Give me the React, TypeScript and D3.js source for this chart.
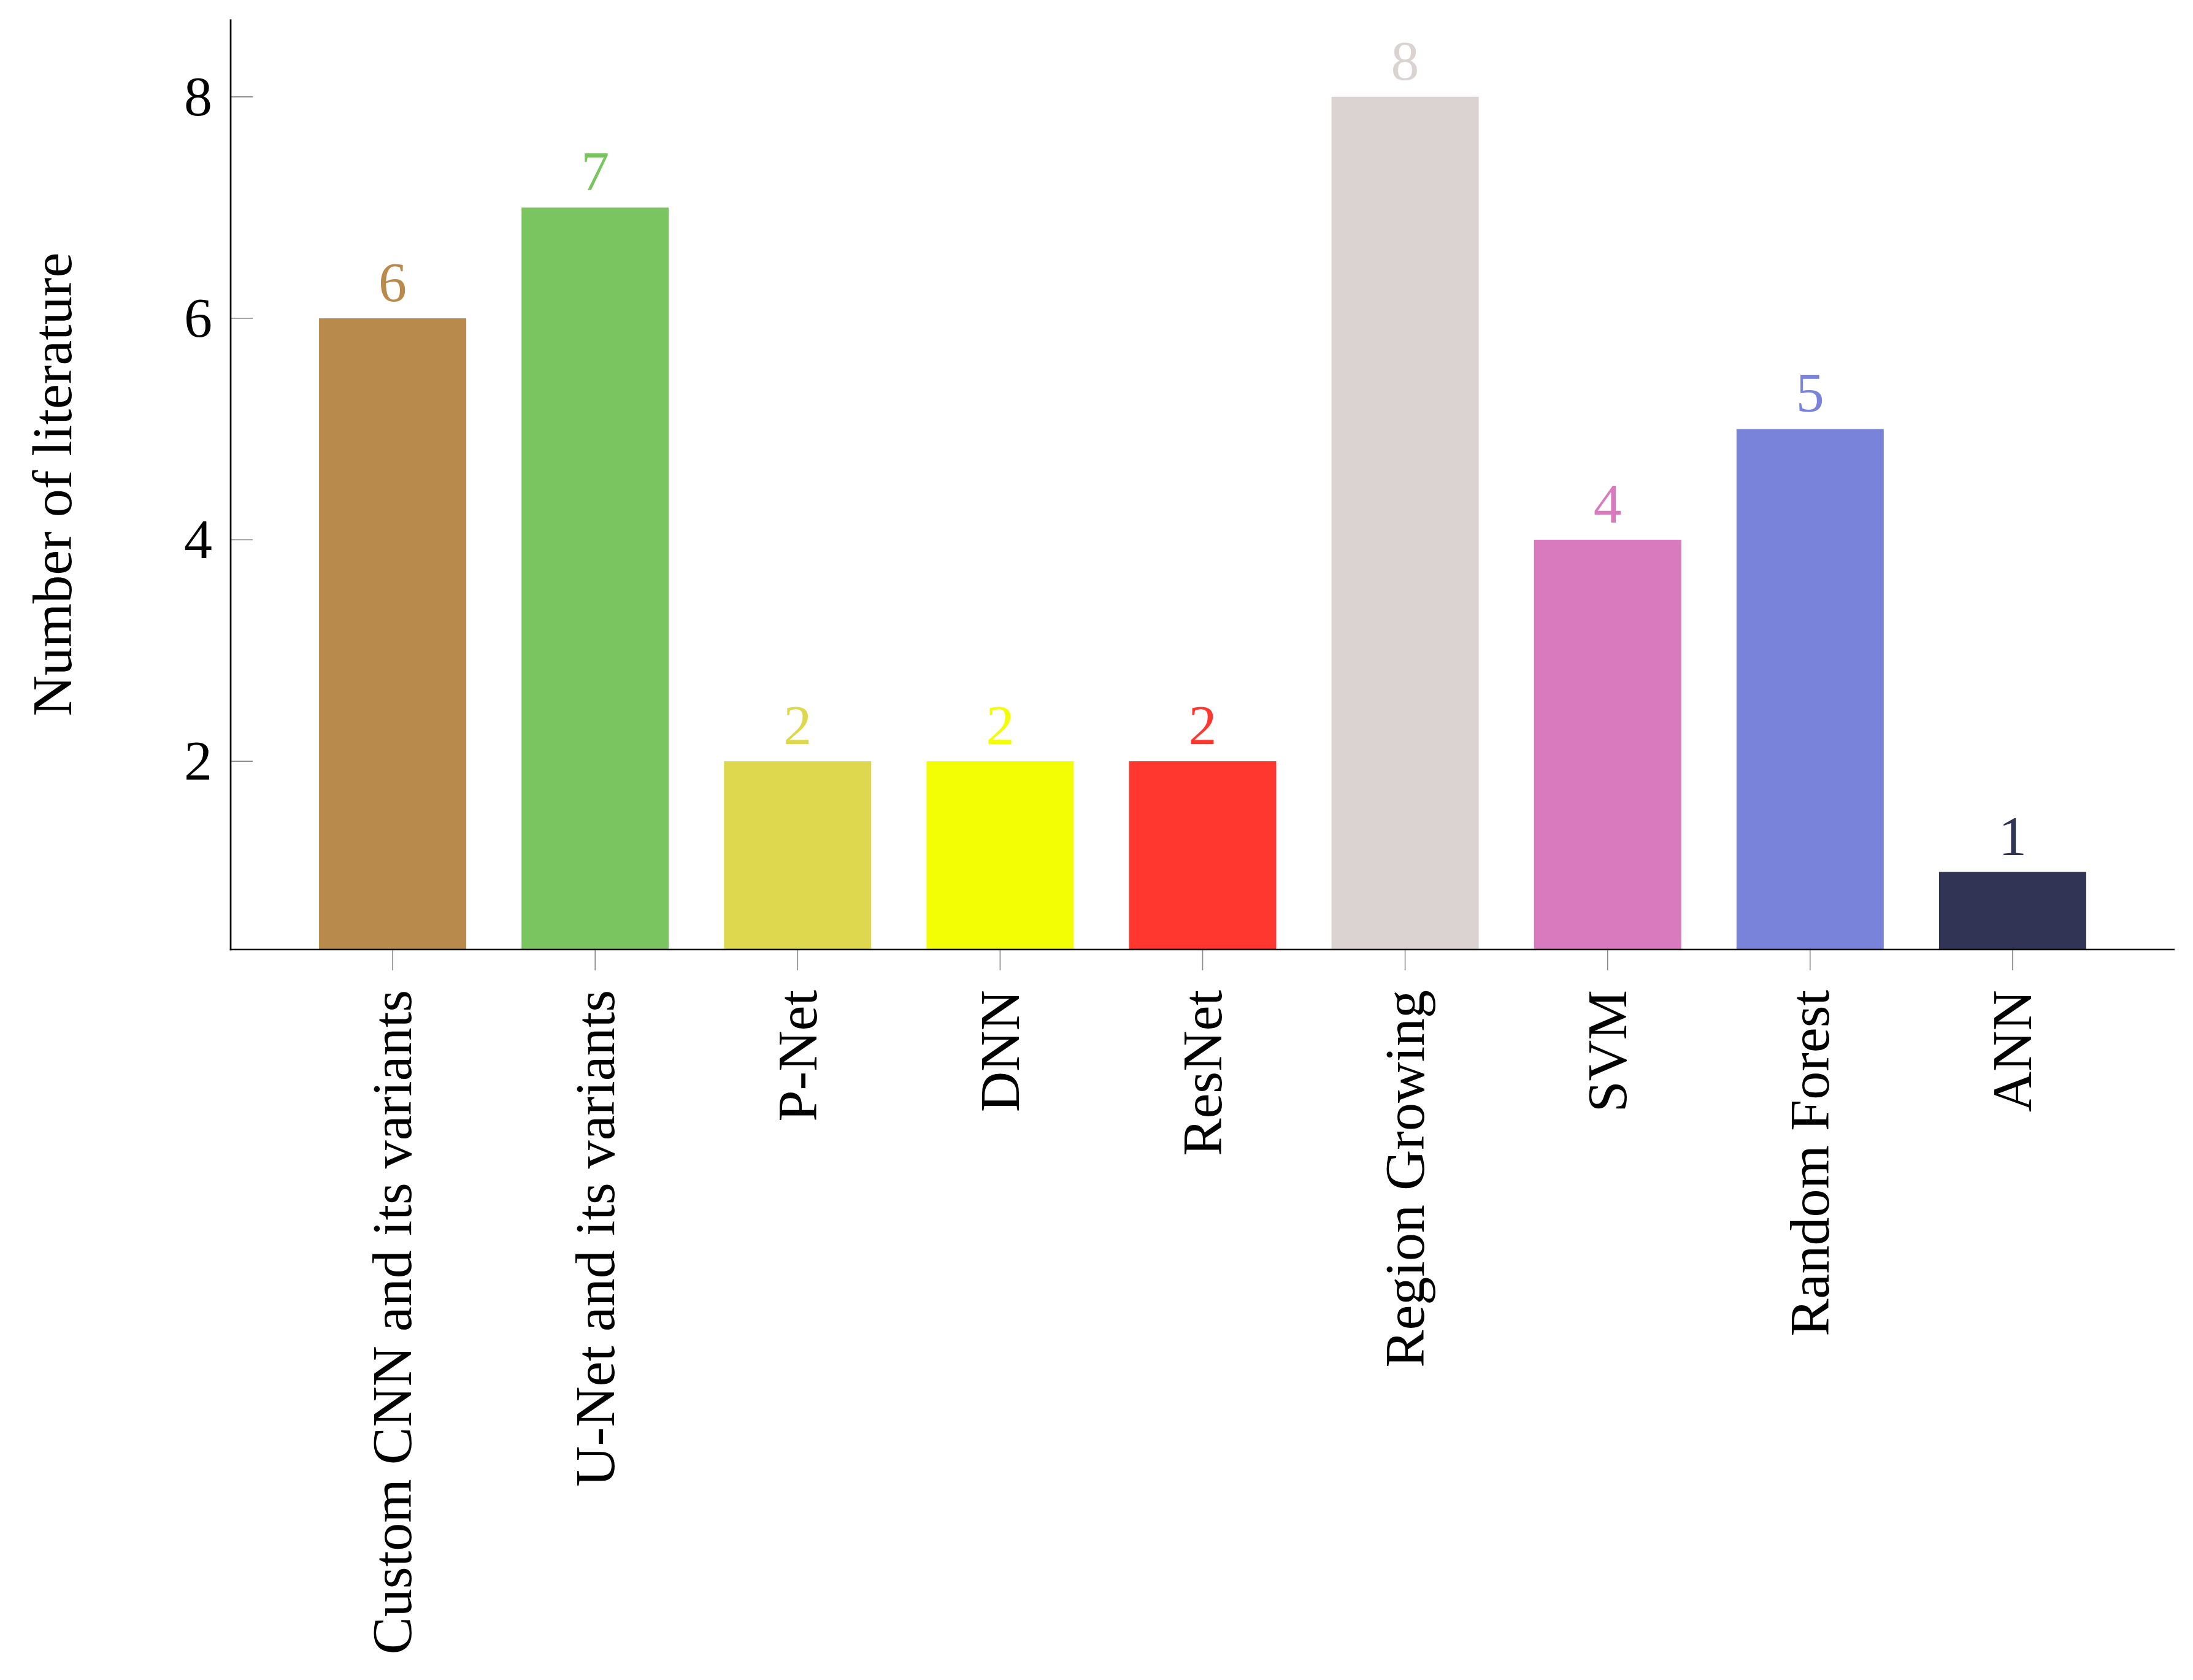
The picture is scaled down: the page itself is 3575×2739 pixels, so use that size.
import React from "react";
import * as d3 from "d3";

const categories = [
  "Custom CNN and its variants",
  "U-Net and its variants",
  "P-Net",
  "DNN",
  "ResNet",
  "Region Growing",
  "SVM",
  "Random Forest",
  "ANN",
];
const values = [6, 7, 2, 2, 2, 8, 4, 5, 1];
const colors = [
  "#B88A4C",
  "#7BC561",
  "#DED84E",
  "#F3FD04",
  "#FF372F",
  "#DBD3D2",
  "#D979BE",
  "#7983D9",
  "#323456",
];
const yTicks = [2, 4, 6, 8];
const yLabel = "Number of literature";

const W = 3575;
const H = 2739;
const FONT = "'Liberation Serif', 'Times New Roman', serif";
const FS = 92;

export default function App() {
  const x = d3.scaleLinear().domain([-0.8, 8.8]).range([376, 3545]);
  const y = d3.scaleLinear().domain([0.3, 8.7]).range([1548, 31.5]);
  const barW = 240;
  const y0 = y.range()[0];

  return (
    <svg
      width={W}
      height={H}
      style={{ position: "absolute", left: 0, top: 0, background: "#fff" }}
      fontFamily={FONT}
    >
      {/* bars */}
      {values.map((v, i) => (
        <rect
          key={"b" + i}
          x={x(i) - barW / 2}
          y={y(v)}
          width={barW}
          height={y0 - y(v)}
          fill={colors[i]}
        />
      ))}
      {/* value labels */}
      {values.map((v, i) => (
        <text
          key={"v" + i}
          x={x(i)}
          y={y(v) - 28}
          textAnchor="middle"
          fontSize={FS}
          fill={colors[i]}
        >
          {v}
        </text>
      ))}
      {/* y ticks */}
      {yTicks.map((t) => (
        <g key={"yt" + t}>
          <line x1={376} x2={412} y1={y(t)} y2={y(t)} stroke="#8a8a8a" strokeWidth={1.6} />
          <text x={346} y={y(t)} dy="0.33em" textAnchor="end" fontSize={FS} fill="#000">
            {t}
          </text>
        </g>
      ))}
      {/* x ticks */}
      {categories.map((c, i) => (
        <g key={"xt" + i}>
          <line x1={x(i)} x2={x(i)} y1={y0} y2={y0 + 34} stroke="#8a8a8a" strokeWidth={1.6} />
          <text
            transform={`translate(${x(i)},1614) rotate(-90)`}
            dy="0.33em"
            textAnchor="end"
            fontSize={FS}
            fill="#000"
          >
            {c}
          </text>
        </g>
      ))}
      {/* axes */}
      <line x1={376} x2={376} y1={y(8.7)} y2={y0 + 1.3} stroke="#000" strokeWidth={2.7} />
      <line x1={376 - 1.3} x2={x(8.8)} y1={y0} y2={y0} stroke="#000" strokeWidth={2.7} />
      {/* y label */}
      <text
        transform={`translate(116,${(y(8.7) + y0) / 2}) rotate(-90)`}
        textAnchor="middle"
        fontSize={FS}
        fill="#000"
      >
        {yLabel}
      </text>
    </svg>
  );
}
